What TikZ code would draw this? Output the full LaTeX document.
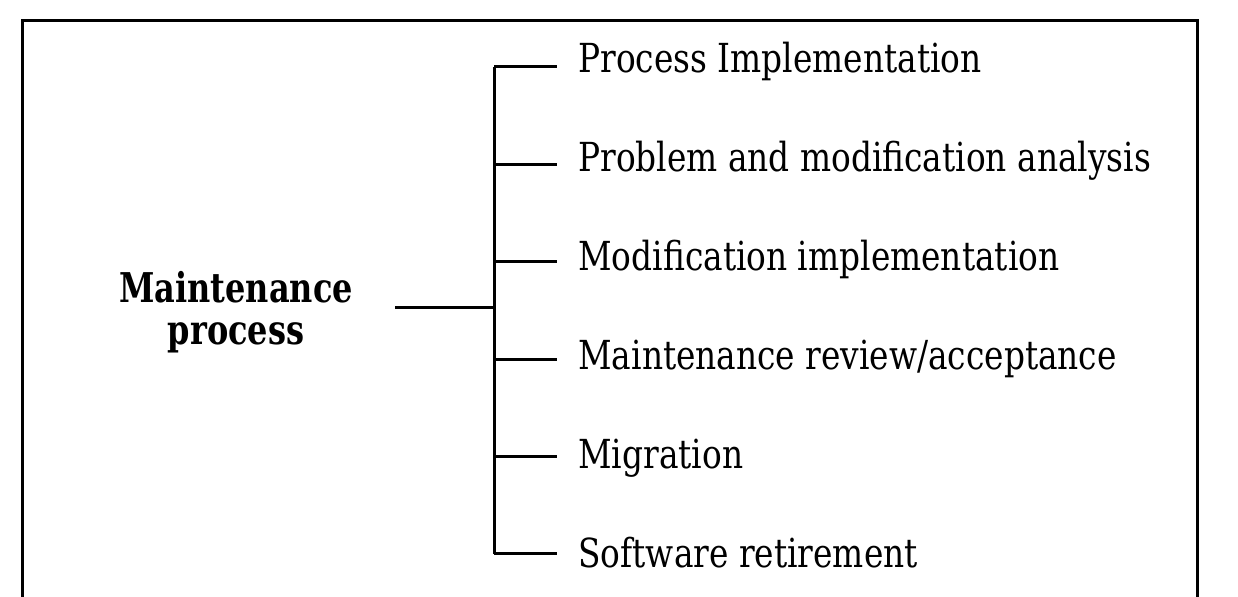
\documentclass[tikz,border=0pt]{standalone}
\usepackage{fontspec}
\newfontfamily\itemfont[FakeStretch=0.82]{DejaVu Serif}
\newfontfamily\mainfont[FakeStretch=0.78]{DejaVu Serif Bold}
\begin{document}
\begin{tikzpicture}[x=0.5pt,y=-0.5pt,
  frame/.style={line width=1.8pt},
  conn/.style={line width=1.5pt},
  itemtext/.style={anchor=base west,inner sep=0pt,font=\itemfont\fontsize{20pt}{24pt}\selectfont},
  maintext/.style={anchor=base,inner sep=0pt,align=center,font=\mainfont\fontsize{20.5pt}{21pt}\selectfont}]
\useasboundingbox (0,0) rectangle (1238,597);
\clip (0,0) rectangle (1238,597);
\draw[frame] (22.5,20.5) rectangle (1197.5,640);
% main label
\node[maintext] (main) at (236,345) {Maintenance\\process};
% tree coordinates
\coordinate (stub) at (395,308);
\coordinate (spine) at (494,308);
\foreach \i/\y in {1/67,2/164.4,3/261.8,4/359.2,5/456.6,6/554}{
  \coordinate (b\i) at (494,\y);
  \coordinate (e\i) at (557,\y);
}
\node[itemtext] (t1) at (578,73) {Process Implementation};
\node[itemtext] (t2) at (578,172) {Problem and modification analysis};
\node[itemtext] (t3) at (578,271) {Modification implementation};
\node[itemtext] (t4) at (578,370) {Maintenance review/acceptance};
\node[itemtext] (t5) at (578,469) {Migration};
\node[itemtext] (t6) at (578,568) {Software retirement};
\draw[conn] (stub) -- (spine);
\draw[conn] (b1) -- (b6);
\foreach \i in {1,...,6}{\draw[conn] (b\i) -- (e\i);}
\end{tikzpicture}
\end{document}
